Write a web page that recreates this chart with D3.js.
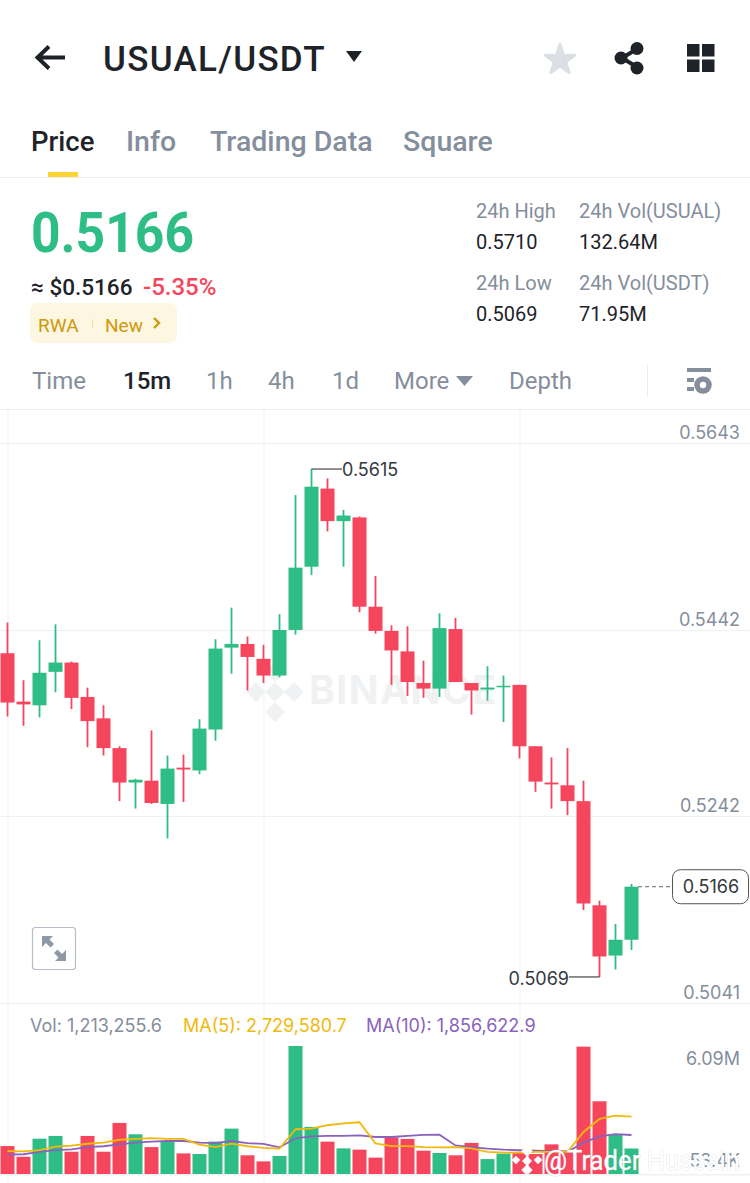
<!DOCTYPE html>
<html>
<head>
<meta charset="utf-8">
<title>USUAL/USDT</title>
<script src="https://cdn.jsdelivr.net/npm/d3@7"></script>
<style>
  html, body { margin: 0; padding: 0; background: #fff; }
  svg { display: block; }
  text { font-family: Roboto, sans-serif; }
  .chart text { font-family: Inter, sans-serif; }
</style>
</head>
<body>
<div id="svg-canvas"></div>
<script>
// candles, oldest first
var highs = [.5450,.5388,.5431,.5448,.5408,.5380,.5361,.5317,.5282,.5334,.5307,.5308,.5346,.5432,.5466,.5435,.5426,.5459,.5587,.5615,
  .5605,.5571,.5564,.5500,.5447,.5446,.5409,.5460,.5455,.5385,.5403,.5393,.5383,.5317,.5305,.5315,.5280,.5151,.5126,.5169]
var lows = [.5349,.5339,.5348,.5375,.5357,.5316,.5307,.5258,.5250,.5255,.5218,.5257,.5287,.5323,.5395,.5377,.5385,.5391,.5437,.5501,
  .5548,.5510,.5461,.5438,.5383,.5371,.5369,.5370,.5386,.5351,.5366,.5343,.5304,.5268,.5250,.5243,.5141,.5069,.5077,.5098]
var opens = [.5417,.5365,.5361,.5397,.5407,.5370,.5347,.5315,.5278,.5280,.5255,.5294,.5291,.5335,.5423,.5427,.5411,.5393,.5442,.5510,
  .5594,.5559,.5563,.5467,.5441,.5419,.5385,.5379,.5443,.5385,.5378,.5381,.5383,.5317,.5278,.5275,.5258,.5146,.5092,.5109]
var closes = [.5364,.5362,.5396,.5407,.5369,.5344,.5315,.5278,.5281,.5256,.5293,.5292,.5336,.5422,.5427,.5413,.5393,.5442,.5509,.5596,
  .5559,.5565,.5467,.5441,.5420,.5386,.5379,.5444,.5386,.5377,.5380,.5382,.5317,.5279,.5276,.5258,.5148,.5091,.5109,.5166]

// volume panel
var volumes = [1.33,0.82,1.68,1.81,1.06,1.81,1.06,2.43,1.89,1.28,1.54,0.98,0.95,1.54,2.16,0.89,0.60,0.86,6.09,2.24,
  1.54,1.22,1.16,0.78,1.74,1.67,1.11,1.00,0.89,1.48,0.71,0.97,0.99,0.95,1.41,1.11,6.06,3.46,1.86,1.213]
var ma5 = [1.09,1.08,1.14,1.30,1.35,1.44,1.49,1.63,1.67,1.71,1.67,1.67,1.40,1.28,1.44,1.32,1.24,1.21,2.13,2.16,
  2.32,2.41,2.46,1.46,1.33,1.33,1.28,1.27,1.28,1.22,1.05,1.02,1.02,1.05,1.05,1.05,2.00,2.62,2.78,2.73]
var ma10 = [.92,.94,1.05,1.14,1.17,1.28,1.32,1.41,1.49,1.54,1.57,1.57,1.49,1.47,1.57,1.47,1.43,1.27,1.70,1.79,
  1.81,1.81,1.84,1.76,1.76,1.81,1.86,1.87,1.36,1.28,1.21,1.16,1.13,1.11,1.09,1.06,1.49,1.79,1.90,1.856]

var priceTicks = [0.5643, 0.5442, 0.5242, 0.5041]
var volTicks = [6.09, 0.0534]
var gridCandles = [0, 16, 32]
var lastPrice = 0.5166, highPrice = 0.5615, lowPrice = 0.5069

var W = 750, H = 1183
var green = "#2ebd85", red = "#f6465d", dark = "#1e2329", grey = "#848e9c", gridCol = "#eff1f3"

var svg = d3.select('#svg-canvas')
  .append('svg')
  .attr("width", W)
  .attr("height", H)

var xscale = d3.scaleLinear().domain([0, 39]).range([7.5, 631.5])
var yscale = d3.scaleLinear().domain([0.5643, 0.5041]).range([443, 1003])
var vscale = d3.scaleLinear().domain([0, 6.09]).range([1174, 1046])

function label(x, y, str, size, color, weight, anchor) {
  return svg.append("text")
    .attr("x", x).attr("y", y)
    .attr("font-size", size)
    .attr("fill", color)
    .attr("font-weight", weight || 400)
    .attr("text-anchor", anchor || "start")
    .text(str)
}

// ---- header
svg.append("path").attr("d", "M65 57.5H38M49 46.5L37.5 57.5L49 68.5")
  .attr("fill", "none").attr("stroke", dark).attr("stroke-width", 4)
label(103, 71, "USUAL/USDT", 35, dark, 500).attr("letter-spacing", 1.3)
svg.append("path").attr("d", "M346 51H362L354 62Z").attr("fill", dark)
svg.append("path")
  .attr("d", d3.symbol().type(d3.symbolStar).size(270)())
  .attr("transform", "translate(560,60)")
  .attr("fill", "#dcdfe3").attr("stroke", "#dcdfe3").attr("stroke-width", 3).attr("stroke-linejoin", "round")
svg.append("path").attr("d", "M637 49L622 58L637 67").attr("fill", "none").attr("stroke", dark).attr("stroke-width", 4)
;[[637, 48.5], [621, 58], [637, 68]].forEach(function (c) {
  svg.append("circle").attr("cx", c[0]).attr("cy", c[1]).attr("r", 6.5).attr("fill", dark)
})
;[[687, 44], [702, 44], [687, 59.5], [702, 59.5]].forEach(function (c) {
  svg.append("rect").attr("x", c[0]).attr("y", c[1]).attr("width", 12.5).attr("height", 12.5).attr("fill", dark)
})

// ---- tabs
label(31, 151, "Price", 27.5, dark, 500)
label(126, 151, "Info", 28.5, grey, 500)
label(210, 151, "Trading Data", 28.5, grey, 500)
label(403, 151, "Square", 28.5, grey, 500)
svg.append("rect").attr("x", 48).attr("y", 172).attr("width", 30).attr("height", 5).attr("fill", "#fcd535")
svg.append("rect").attr("x", 0).attr("y", 177).attr("width", W).attr("height", 1).attr("fill", "#eaecef")

// ---- price block
label(31, 252, "0.5166", 55, green, 700).attr("textLength", 163).attr("lengthAdjust", "spacingAndGlyphs")
label(31, 295, "≈ $0.5166", 22.5, dark, 500)
label(143, 295, "-5.35%", 24, red, 500)
svg.append("rect").attr("x", 30).attr("y", 303).attr("width", 147).attr("height", 40).attr("rx", 8).attr("fill", "#fdf6e1")
label(38, 332, "RWA", 19, "#d0980b")
svg.append("rect").attr("x", 92).attr("y", 319).attr("width", 1).attr("height", 9).attr("fill", "#eddfae")
label(105, 332, "New", 19, "#d0980b")
svg.append("path").attr("d", "M154 318L159 323L154 328").attr("fill", "none").attr("stroke", "#d0980b").attr("stroke-width", 2.4)

label(476, 218, "24h High", 20, grey)
label(579, 218, "24h Vol(USUAL)", 20, grey)
label(476, 249, "0.5710", 20, dark)
label(579, 249, "132.64M", 20, dark)
label(476, 290, "24h Low", 20, grey)
label(579, 290, "24h Vol(USDT)", 20, grey)
label(476, 321, "0.5069", 20, dark)
label(579, 321, "71.95M", 20, dark)

// ---- interval row
label(32, 389, "Time", 24, grey)
label(123, 389, "15m", 24, dark, 500)
label(206, 389, "1h", 24, grey)
label(268, 389, "4h", 24, grey)
label(332, 389, "1d", 24, grey)
label(394, 389, "More", 24, grey)
svg.append("path").attr("d", "M456 376H473L464.5 386Z").attr("fill", grey)
label(509, 389, "Depth", 24, grey)
svg.append("rect").attr("x", 647).attr("y", 365).attr("width", 1).attr("height", 31).attr("fill", "#eaecef")
svg.append("rect").attr("x", 687).attr("y", 368).attr("width", 24).attr("height", 4).attr("fill", grey)
svg.append("rect").attr("x", 687).attr("y", 378).attr("width", 7).attr("height", 4).attr("fill", grey)
svg.append("rect").attr("x", 687).attr("y", 387).attr("width", 7).attr("height", 4).attr("fill", grey)
svg.append("path")
  .attr("d", d3.symbol().type(d3.symbolCircle).size(240)())
  .attr("transform", "translate(703,385)").attr("fill", grey)
svg.append("circle").attr("cx", 703).attr("cy", 385).attr("r", 3.2).attr("fill", "#fff")
svg.append("rect").attr("x", 0).attr("y", 409).attr("width", W).attr("height", 1).attr("fill", "#eaecef")

// ---- chart
var chart = svg.append("g").attr("class", "chart")

// vertical grid through the x axis
chart.append("g")
  .attr("transform", "translate(0,410)")
  .call(d3.axisBottom(xscale).tickValues(gridCandles).tickSize(H - 410).tickFormat(""))
  .call(function (g) { g.select(".domain").remove() })
  .selectAll("line").attr("stroke", gridCol)

// horizontal grid and price labels
var priceAxis = chart.append("g")
  .call(d3.axisRight(yscale).tickValues(priceTicks).tickSize(W).tickFormat(d3.format(".4f")))
  .call(function (g) { g.select(".domain").remove() })
priceAxis.selectAll("line").attr("stroke", gridCol)
priceAxis.selectAll("text")
  .attr("x", 740).attr("dy", "-0.27em")
  .attr("text-anchor", "end")
  .attr("font-size", 18)
  .attr("font-family", "Inter, sans-serif")
  .attr("fill", grey)

// watermark
var wm = chart.append("g").attr("fill", "#f0f1f2")
;[[275, 672, 7], [256, 692, 7], [294, 692, 7], [275, 712, 7], [275, 692, 7]].forEach(function (d) {
  wm.append("rect").attr("x", d[0] - d[2]).attr("y", d[1] - d[2])
    .attr("width", d[2] * 2).attr("height", d[2] * 2)
    .attr("transform", "rotate(45," + d[0] + "," + d[1] + ")")
})
wm.append("text").attr("x", 309).attr("y", 704).attr("font-size", 39).attr("font-weight", 700)
  .attr("letter-spacing", 1.5).attr("fill", "#f0f1f2").text("BINANCE")

var idx = d3.range(highs.length)
function candleColor(i) { return closes[i] >= opens[i] ? green : red }

chart.append("g").selectAll("line")
  .data(idx).enter().append("line")
  .attr("x1", function (i) { return xscale(i) })
  .attr("x2", function (i) { return xscale(i) })
  .attr("y1", function (i) { return yscale(highs[i]) })
  .attr("y2", function (i) { return yscale(lows[i]) })
  .attr("stroke", candleColor)
  .attr("stroke-width", 1.8)

chart.append("g").selectAll("rect")
  .data(idx).enter().append("rect")
  .attr("x", function (i) { return xscale(i) - 7 })
  .attr("width", 14)
  .attr("y", function (i) { return yscale(Math.max(opens[i], closes[i])) })
  .attr("height", function (i) { return Math.max(1.5, Math.abs(yscale(opens[i]) - yscale(closes[i]))) })
  .attr("fill", candleColor)

// high / low markers
var ink = "#1e2329"
var hiIdx = highs.indexOf(highPrice), loIdx = lows.indexOf(lowPrice)
chart.append("line")
  .attr("x1", xscale(hiIdx)).attr("x2", 342)
  .attr("y1", yscale(highPrice)).attr("y2", yscale(highPrice))
  .attr("stroke", ink).attr("stroke-width", 1)
chart.append("text").attr("x", 342).attr("y", yscale(highPrice) + 6.5)
  .attr("font-size", 18).attr("fill", "#33383f").text(d3.format(".4f")(highPrice))
chart.append("line")
  .attr("x1", 569).attr("x2", xscale(loIdx))
  .attr("y1", yscale(lowPrice)).attr("y2", yscale(lowPrice))
  .attr("stroke", ink).attr("stroke-width", 1)
chart.append("text").attr("x", 569).attr("y", yscale(lowPrice) + 8)
  .attr("text-anchor", "end")
  .attr("font-size", 18).attr("fill", "#33383f").text(d3.format(".4f")(lowPrice))

// last price tag
chart.append("line")
  .attr("x1", 638).attr("x2", 672)
  .attr("y1", yscale(lastPrice)).attr("y2", yscale(lastPrice))
  .attr("stroke", "#666").attr("stroke-width", 1).attr("stroke-dasharray", "4,3")
chart.append("rect")
  .attr("x", 672.5).attr("y", yscale(lastPrice) - 17)
  .attr("width", 76).attr("height", 34).attr("rx", 8)
  .attr("fill", "#fff").attr("stroke", "#555")
chart.append("text").attr("x", 711).attr("y", yscale(lastPrice) + 6.5)
  .attr("text-anchor", "middle")
  .attr("font-size", 18).attr("fill", "#33383f").text(d3.format(".4f")(lastPrice))

// expand button
chart.append("rect").attr("x", 32.5).attr("y", 927.5).attr("width", 43).attr("height", 42).attr("rx", 3)
  .attr("fill", "#fff").attr("stroke", "#b7bdc6").attr("stroke-width", 1.2)
chart.append("path")
  .attr("d", "M42 936H53L49.5 939.5L54 944L50.5 947.5L46 943L42 947ZM66 961H55L58.5 957.5L54 953L57.5 949.5L62 954L66 950Z")
  .attr("fill", "#8f98a5")

// ---- volume panel
chart.append("text").attr("x", 30).attr("y", 1032).attr("font-size", 18).attr("fill", grey).text("Vol: 1,213,255.6")
chart.append("text").attr("x", 183).attr("y", 1032).attr("font-size", 18).attr("fill", "#f0b90b").text("MA(5): 2,729,580.7")
chart.append("text").attr("x", 366).attr("y", 1032).attr("font-size", 18).attr("fill", "#8a62bd").text("MA(10): 1,856,622.9")

chart.append("g").selectAll("rect")
  .data(idx).enter().append("rect")
  .attr("x", function (i) { return xscale(i) - 7 })
  .attr("width", 14)
  .attr("y", function (i) { return vscale(volumes[i]) })
  .attr("height", function (i) { return vscale(0) - vscale(volumes[i]) })
  .attr("fill", candleColor)

var maLine = d3.line()
  .x(function (d, i) { return xscale(i) })
  .y(function (d) { return vscale(d) })

chart.append("path").attr("d", maLine(ma10)).attr("fill", "none").attr("stroke", "#8a62bd").attr("stroke-width", 1.8)
chart.append("path").attr("d", maLine(ma5)).attr("fill", "none").attr("stroke", "#f0b90b").attr("stroke-width", 1.8)

chart.append("rect").attr("x", 0).attr("y", 1174).attr("width", W).attr("height", 1.5).attr("fill", gridCol)

var volAxis = chart.append("g")
  .call(d3.axisLeft(vscale).tickValues(volTicks).tickSize(0)
    .tickFormat(function (d) { return d > 1 ? d + "M" : (d * 1000).toFixed(1) + "K" }))
  .call(function (g) { g.select(".domain").remove() })
volAxis.selectAll("text")
  .attr("x", 740)
  .attr("dy", function (d) { return d > 1 ? "1.05em" : "-0.35em" })
  .attr("text-anchor", "end")
  .attr("font-size", 18)
  .attr("font-family", "Inter, sans-serif")
  .attr("fill", grey)

// ---- square watermark, bottom right
var sq = svg.append("g").attr("fill", "#fff")
;[[527, 1151, 4], [516, 1160, 3], [538, 1160, 3], [527, 1161, 3.5], [527, 1170, 4]].forEach(function (d) {
  sq.append("rect").attr("x", d[0] - d[2]).attr("y", d[1] - d[2])
    .attr("width", d[2] * 2).attr("height", d[2] * 2)
    .attr("transform", "rotate(45," + d[0] + "," + d[1] + ")")
})
svg.append("text").attr("x", 544).attr("y", 1170)
  .attr("font-size", 27).attr("fill", "#fff")
  .attr("textLength", 196).attr("lengthAdjust", "spacingAndGlyphs")
  .attr("stroke", "#c9ccd1").attr("stroke-width", 0.5).attr("paint-order", "stroke")
  .text("@Trader Hussain")
</script>
</body>
</html>
